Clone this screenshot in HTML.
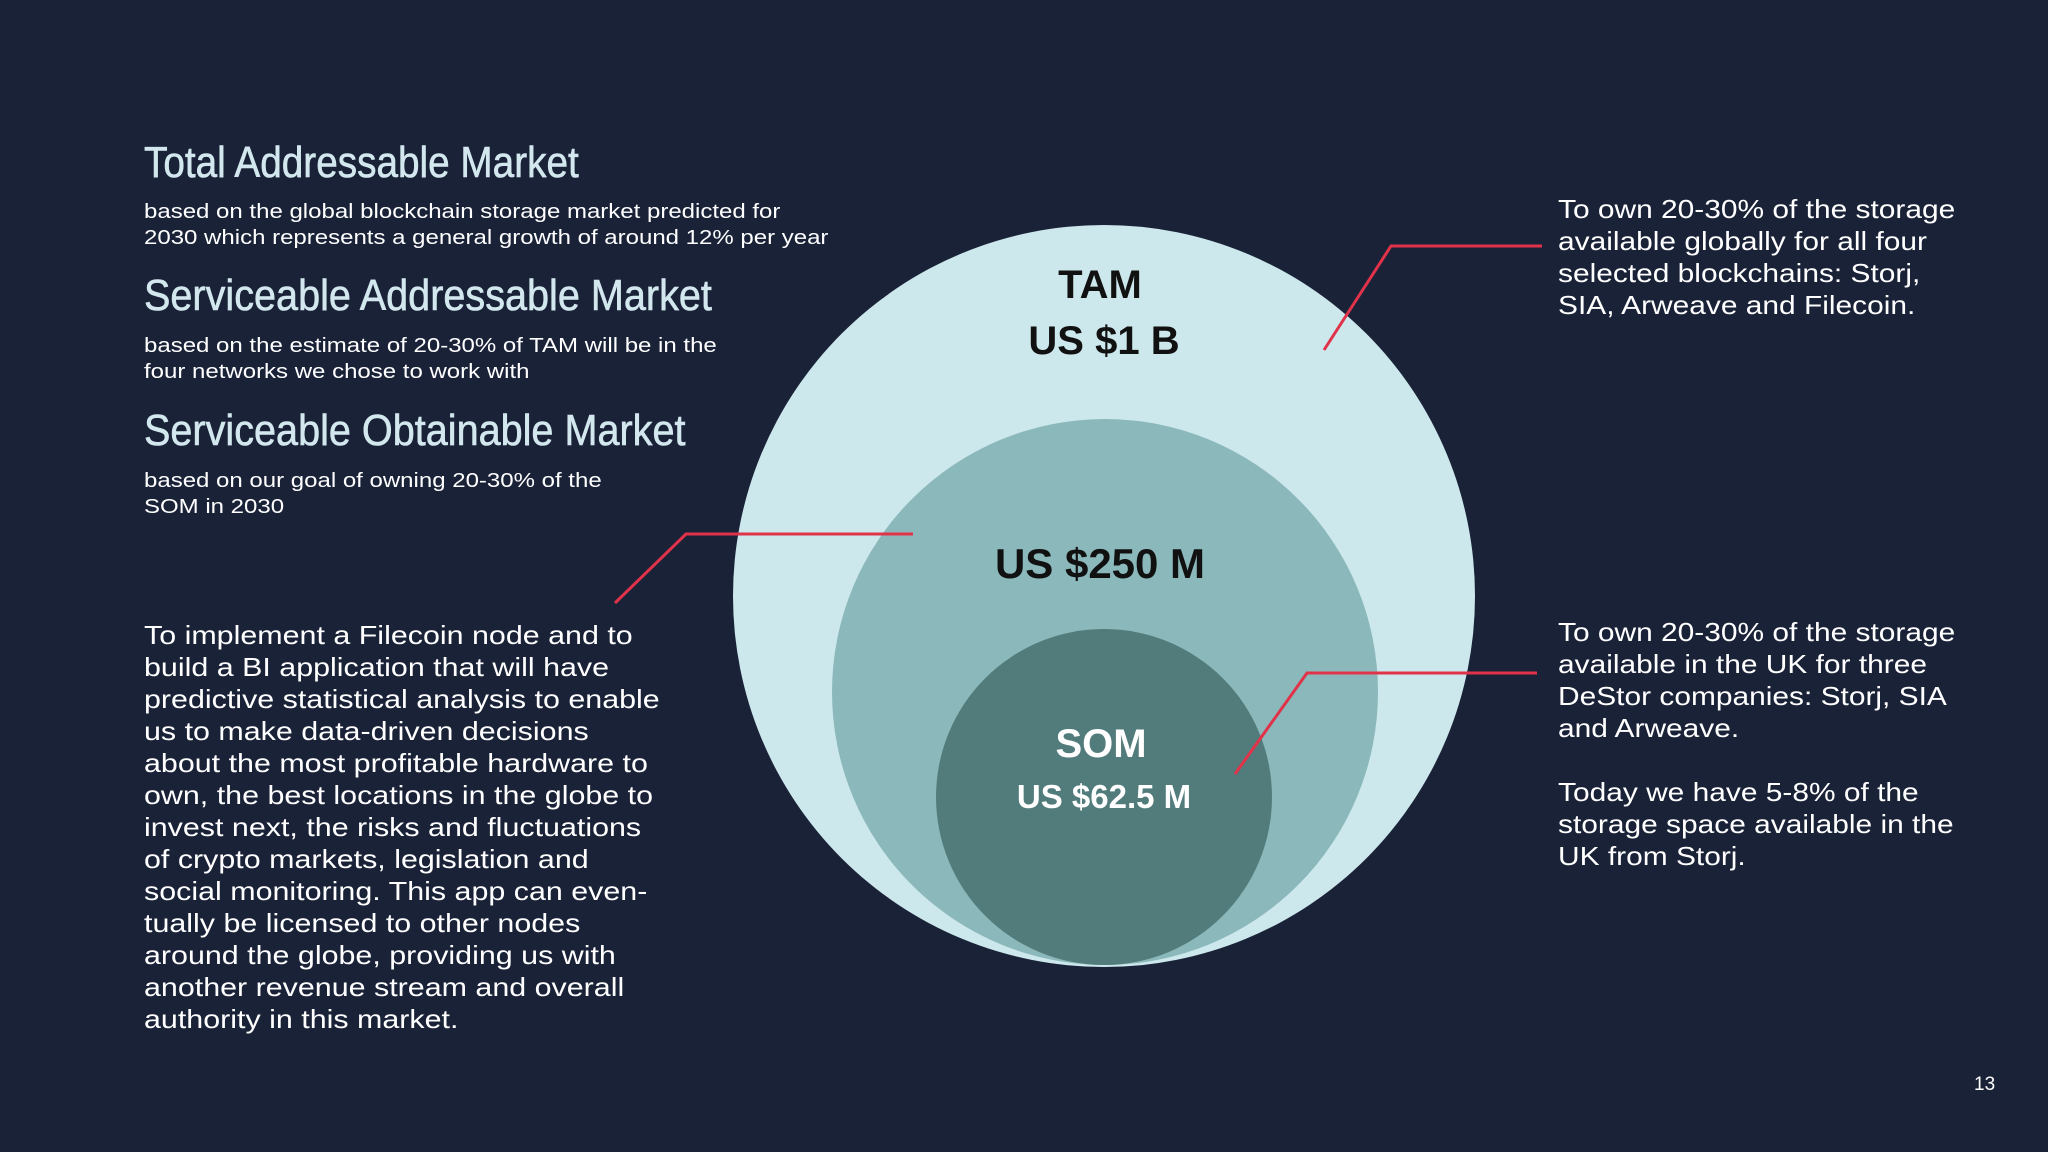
<!DOCTYPE html>
<html><head><meta charset="utf-8"><style>
html,body{margin:0;padding:0}
body{width:2048px;height:1152px;background:#1a2238;position:relative;overflow:hidden;font-family:"Liberation Sans",sans-serif;}
.t{position:absolute;white-space:nowrap;transform-origin:0 0;}
.h{color:#d3e8ee;font-size:44px;line-height:50px;left:144px;transform:scaleX(0.88);-webkit-text-stroke:0.6px #d3e8ee;}
.s{color:#fff;font-size:20px;line-height:26px;left:144px;transform:scaleX(1.2);}
.p{color:#fff;font-size:26px;line-height:32px;transform:scaleX(1.17);}
.c{text-align:center;font-weight:bold;transform:translateX(-50%);}
</style></head><body>
<svg width="2048" height="1152" style="position:absolute;left:0;top:0">
<circle cx="1104" cy="596" r="371" fill="#cde8ec"/>
<circle cx="1105" cy="692" r="273" fill="#8bb8bb"/>
<circle cx="1104" cy="797" r="168" fill="#527c7b"/>
<g fill="none" stroke="#e0334a" stroke-width="3">
<polyline points="1324,350 1391,246 1542,246"/>
<polyline points="615,603 686,534 913,534"/>
<polyline points="1235,774 1307,673 1537,673"/>
</g>
</svg>
<div class="t h" style="top:138px">Total Addressable Market</div>
<div class="t s" style="top:199px">based on the global blockchain storage market predicted for<br>2030 which represents a general growth of around 12% per year</div>
<div class="t h" style="top:271px;transform:scaleX(0.9)">Serviceable Addressable Market</div>
<div class="t s" style="top:333px">based on the estimate of 20-30% of TAM will be in the<br>four networks we chose to work with</div>
<div class="t h" style="top:406px;transform:scaleX(0.9)">Serviceable Obtainable Market</div>
<div class="t s" style="top:468px">based on our goal of owning 20-30% of the<br>SOM in 2030</div>
<div class="t p" style="left:144px;top:619px">To implement a Filecoin node and to<br>build a BI application that will have<br>predictive statistical analysis to enable<br>us to make data-driven decisions<br>about the most profitable hardware to<br>own, the best locations in the globe to<br>invest next, the risks and fluctuations<br>of crypto markets, legislation and<br>social monitoring. This app can even-<br>tually be licensed to other nodes<br>around the globe, providing us with<br>another revenue stream and overall<br>authority in this market.</div>
<div class="t p" style="left:1558px;top:193px;transform:scaleX(1.15)">To own 20-30% of the storage<br>available globally for all four<br>selected blockchains: Storj,<br>SIA, Arweave and Filecoin.</div>
<div class="t p" style="left:1558px;top:616px;transform:scaleX(1.15)">To own 20-30% of the storage<br>available in the UK for three<br>DeStor companies: Storj, SIA<br>and Arweave.<br><br>Today we have 5-8% of the<br>storage space available in the<br>UK from Storj.</div>
<div class="t c" style="left:1100px;top:262px;font-size:40px;line-height:46px;color:#111">TAM</div>
<div class="t c" style="left:1104px;top:318px;font-size:40px;line-height:46px;color:#111">US $1 B</div>
<div class="t c" style="left:1100px;top:540px;font-size:42px;line-height:48px;color:#111">US $250 M</div>
<div class="t c" style="left:1101px;top:721px;font-size:40px;line-height:46px;color:#fff">SOM</div>
<div class="t c" style="left:1104px;top:777px;font-size:33px;line-height:40px;color:#fff">US $62.5 M</div>
<div class="t" style="left:1974px;top:1074px;color:#fff;font-size:19px">13</div>
</body></html>
